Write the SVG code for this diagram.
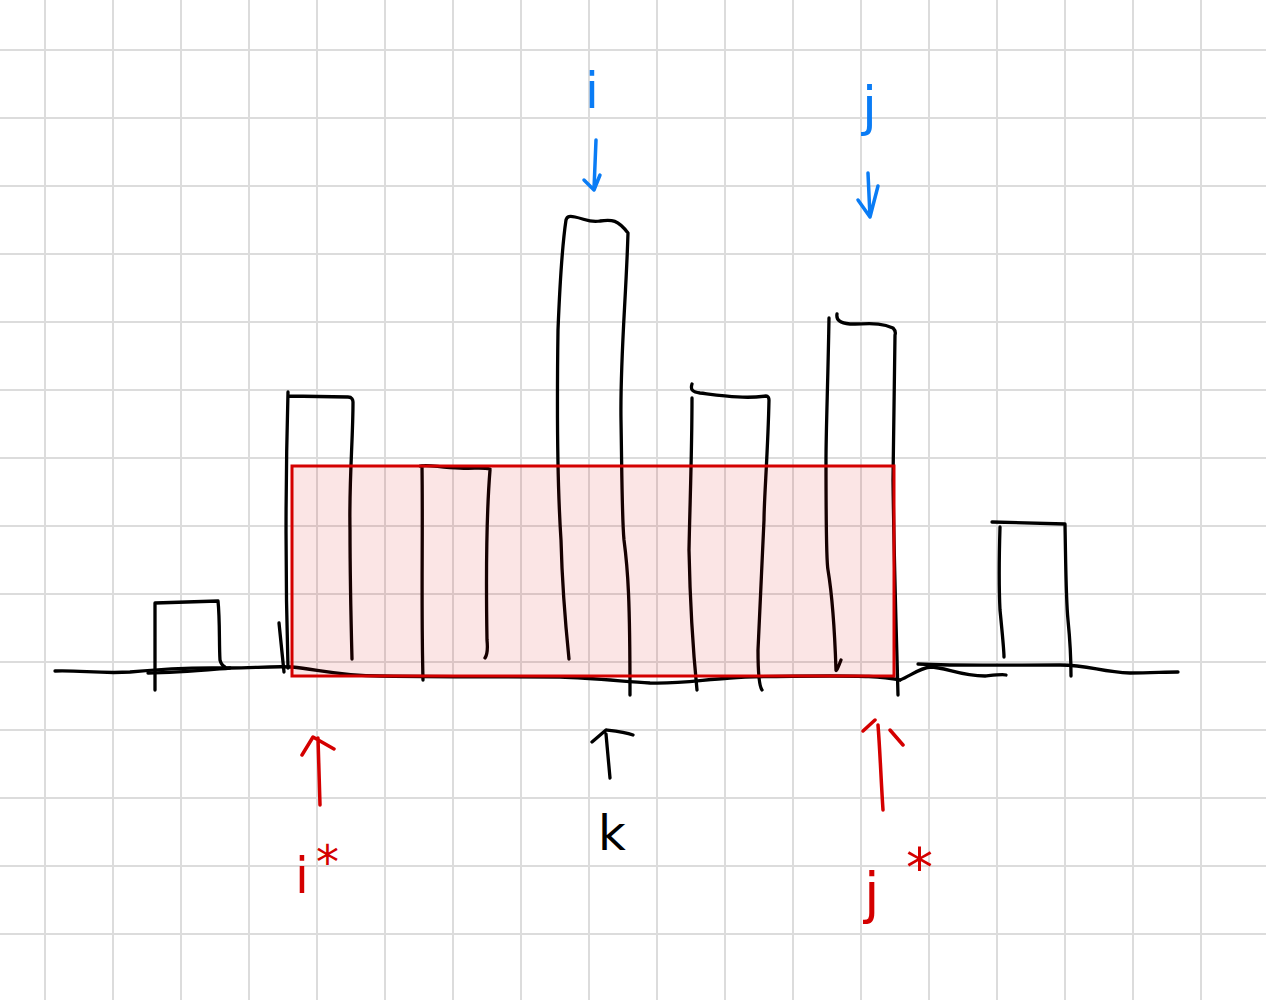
<svg xmlns="http://www.w3.org/2000/svg" width="1266" height="1000" viewBox="0 0 1266 1000">
<style>
.grid line{stroke:#dcdcdc;stroke-width:2}
.ink{fill:none;stroke:#000;stroke-width:3.3;stroke-linecap:round;stroke-linejoin:round}
.blue{fill:none;stroke:#0a7cf5;stroke-width:3.5;stroke-linecap:round;stroke-linejoin:round}
.red{fill:none;stroke:#d40000;stroke-width:3.5;stroke-linecap:round;stroke-linejoin:round}
.lb{font-family:"DejaVu Sans","Noto Sans",sans-serif}
</style>
<rect width="1266" height="1000" fill="#fff"/>
<g class="grid" id="grid">
<line x1="45" y1="0" x2="45" y2="1000"/><line x1="113" y1="0" x2="113" y2="1000"/><line x1="181" y1="0" x2="181" y2="1000"/><line x1="249" y1="0" x2="249" y2="1000"/><line x1="317" y1="0" x2="317" y2="1000"/><line x1="385" y1="0" x2="385" y2="1000"/><line x1="453" y1="0" x2="453" y2="1000"/><line x1="521" y1="0" x2="521" y2="1000"/><line x1="589" y1="0" x2="589" y2="1000"/><line x1="657" y1="0" x2="657" y2="1000"/><line x1="725" y1="0" x2="725" y2="1000"/><line x1="793" y1="0" x2="793" y2="1000"/><line x1="861" y1="0" x2="861" y2="1000"/><line x1="929" y1="0" x2="929" y2="1000"/><line x1="997" y1="0" x2="997" y2="1000"/><line x1="1065" y1="0" x2="1065" y2="1000"/><line x1="1133" y1="0" x2="1133" y2="1000"/><line x1="1201" y1="0" x2="1201" y2="1000"/>
<line x1="0" y1="50" x2="1266" y2="50"/><line x1="0" y1="118" x2="1266" y2="118"/><line x1="0" y1="186" x2="1266" y2="186"/><line x1="0" y1="254" x2="1266" y2="254"/><line x1="0" y1="322" x2="1266" y2="322"/><line x1="0" y1="390" x2="1266" y2="390"/><line x1="0" y1="458" x2="1266" y2="458"/><line x1="0" y1="526" x2="1266" y2="526"/><line x1="0" y1="594" x2="1266" y2="594"/><line x1="0" y1="662" x2="1266" y2="662"/><line x1="0" y1="730" x2="1266" y2="730"/><line x1="0" y1="798" x2="1266" y2="798"/><line x1="0" y1="866" x2="1266" y2="866"/><line x1="0" y1="934" x2="1266" y2="934"/>
</g>
<g id="baseline" class="ink">
<path d="M55,671 C80,670 100,674 130,672 C160,669 190,667 230,668 C255,668 270,666 292,667 C320,670 340,676 380,676 C450,677 520,677 560,677 C590,678 620,681 650,683 C680,684 700,680 730,678 C760,676 790,676 830,676 C860,676 880,676 900,680"/>
<path d="M148,673 C175,673 195,671 230,668"/>
<path d="M900,680 C910,676 920,668 930,667 C945,667 960,676 985,676 C995,675 1003,674 1006,675"/>
<path d="M918,664 C960,666 1010,665 1060,665 C1090,665 1100,672 1130,673 C1150,673 1165,672 1178,672"/>
</g>
<g id="bar1" class="ink">
<path d="M155,690 L155,603 L218,601 C220,620 219,645 220,660 C221,664 223,666 225,667"/>
</g>
<g id="bar2" class="ink">
<path d="M279,623 L284,672"/>
<path d="M288,668 C286,600 285,500 288,392 M288,396 L348,397 C352,397 353,400 353,402 C353,440 349,480 350,530 C350,580 351,620 352,659"/>
</g>
<g id="bar3" class="ink">
<path d="M420,466 C430,464 440,468 460,468 C472,469 482,467 490,469 M422,466 C423,540 421,600 423,680 M490,470 C486,520 486,580 487,640 C488,650 487,655 485,658"/>
</g>
<g id="bar4" class="ink">
<path d="M569,659 C565,620 562,580 561,540 C557,480 557,400 558,330 C560,280 563,240 566,220 C567,216 570,216 575,217 C585,219 590,223 600,221 C612,219 618,220 628,233 C626,300 620,360 621,420 C622,480 622,520 624,540 C628,570 630,600 630,695"/>
</g>
<g id="bar5" class="ink">
<path d="M692,384 C690,390 693,392 700,393 C725,396 745,399 766,396 C768,396 769,398 769,400 C768,450 764,500 764,520 C762,560 760,600 758,650 C758,670 759,686 762,690 M692,398 C692,450 690,500 689,550 C690,600 692,640 697,690"/>
</g>
<g id="bar6" class="ink">
<path d="M829,318 C828,380 826,430 826,460 C826,520 826,560 828,570 C833,600 835,640 836,670 C836,672 838,668 841,660 M837,314 C836,320 840,323 850,324 C870,324 880,322 893,328 C895,330 896,332 895,335 C894,400 893,450 893,480 C894,560 896,620 898,695"/>
</g>
<g id="bar7" class="ink">
<path d="M992,522 L1065,524 C1066,580 1066,600 1068,620 C1070,640 1071,660 1071,676 M1000,527 C999,560 999,590 1000,610 C1002,630 1004,650 1004,657"/>
</g>
<g id="window">
<rect x="292" y="466" width="602" height="210" fill="#dc0000" fill-opacity="0.1" stroke="#d40000" stroke-width="3"/>
</g>
<g id="connectors">
<path class="blue" d="M596,140 L594,189 M584,180 L594,190 L600,175"/>
<path class="blue" d="M868,173 L870,217 M858,200 L870,217 L878,186"/>
<path class="red" d="M320,805 L318,738 M302,755 L313,737 L334,749"/>
<path class="ink" d="M610,778 L606,734 M592,742 L606,730 C615,731 625,732 633,735"/>
<path class="red" d="M883,810 C881,780 880,750 878,725 M863,731 L875,720 M890,730 L903,745"/>
</g>
<g id="label-i"><text class="lb" x="585" y="108" font-size="50" fill="#0a7cf5">i</text></g>
<g id="label-j"><text class="lb" x="862" y="125" font-size="54" fill="#0a7cf5">j</text></g>
<g id="label-k"><text class="lb" x="598" y="850" font-size="48" fill="#000">k</text></g>
<g id="label-istar"><text class="lb" x="295" y="893" font-size="50" fill="#d40000">i<tspan x="316" y="878" font-size="46">*</tspan></text></g>
<g id="label-jstar"><text class="lb" x="864" y="912" font-size="56" fill="#d40000">j<tspan x="906" y="886" font-size="54">*</tspan></text></g>
</svg>
